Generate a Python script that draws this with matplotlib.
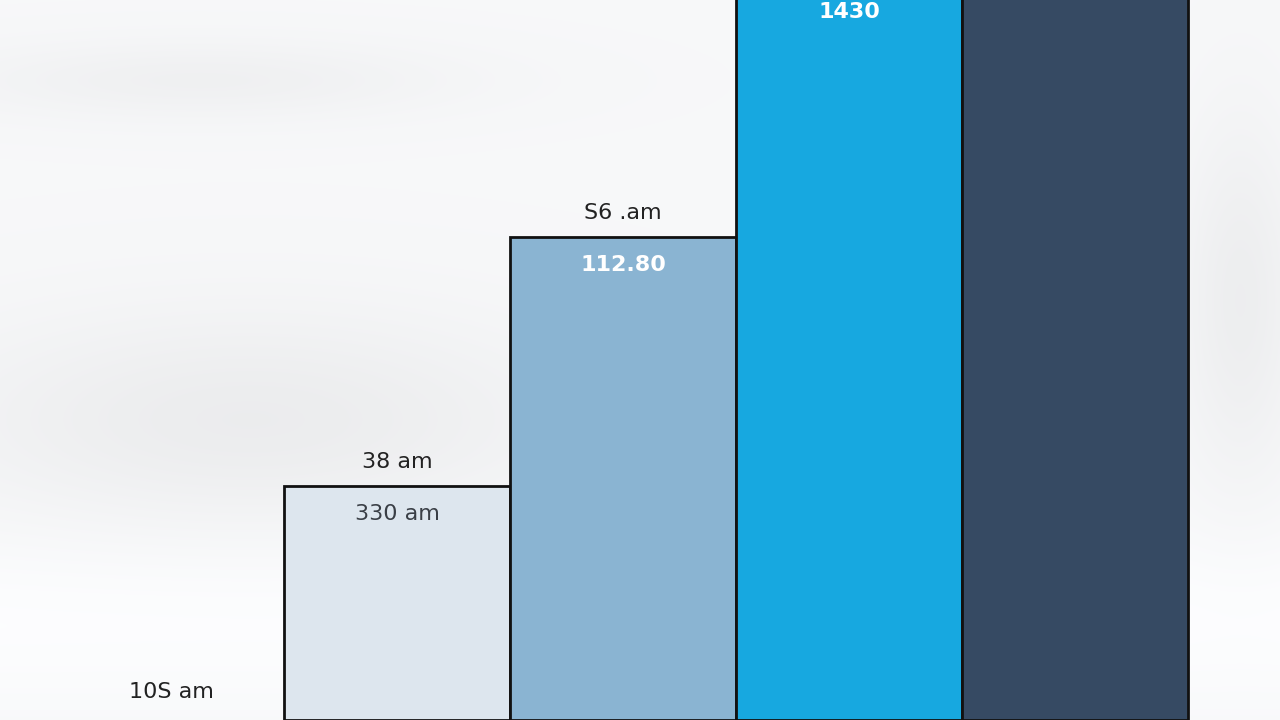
import numpy as np
import matplotlib
matplotlib.use("Agg")
import matplotlib.pyplot as plt

categories = ["A", "B", "C", "D", "E"]
values = [4, 234, 483, 750, 820]
above_labels = ["10S am", "38 am", "S6 .am", "", ""]
inside_labels = ["", "330 am", "112.80", "1430", ""]
colors = ["#e3e9ef", "#dde6ee", "#8ab4d2", "#17a8e0", "#364a63"]
inside_colors = ["#333333", "#3a3f46", "#ffffff", "#ffffff", "#ffffff"]

fig = plt.figure(figsize=(12.8, 7.2), dpi=100)

# soft blurred background
bg = fig.add_axes([0, 0, 1, 1])
bg.set_axis_off()
yy, xx = np.mgrid[0:720, 0:1280]
img = np.full((720, 1280), 0.97)
img -= 0.045 * np.exp(-((yy - 420) / 110.0) ** 2) * np.exp(-((xx - 250) / 320.0) ** 2)
img -= 0.03 * np.exp(-((yy - 80) / 40.0) ** 2) * np.exp(-((xx - 200) / 260.0) ** 2)
img -= 0.04 * np.exp(-((yy - 300) / 180.0) ** 2) * np.exp(-((xx - 1240) / 60.0) ** 2)
img += 0.02 * np.exp(-((yy - 620) / 90.0) ** 2)
bg.imshow(np.dstack([img, img + 0.003, img + 0.008]).clip(0, 1), aspect="auto",
          extent=[0, 1, 0, 1])
bg.set_xlim(0, 1)
bg.set_ylim(0, 1)

ax = fig.add_axes([0, 0, 1, 1])
ax.patch.set_alpha(0)
x = np.arange(len(categories))
bars = ax.bar(x, values, width=1.0, color=colors, edgecolor="#111111", linewidth=2)
bars[0].set_visible(False)
ax.set_xlim(-0.757, 4.907)
ax.set_ylim(0, 720)
ax.set_axis_off()

for xi, v, lab in zip(x, values, above_labels):
    if lab:
        ax.text(xi, v + 24, lab, ha="center", va="center", fontsize=16,
                color="#222222", family="DejaVu Sans")
for xi, v, lab, c in zip(x, values, inside_labels, inside_colors):
    if lab:
        y = min(v - 28, 708)
        ax.text(xi, y, lab, ha="center", va="center", fontsize=16,
                color=c, family="DejaVu Sans",
                fontweight="bold" if c == "#ffffff" else "normal")

fig.savefig("out.png", dpi=100)
